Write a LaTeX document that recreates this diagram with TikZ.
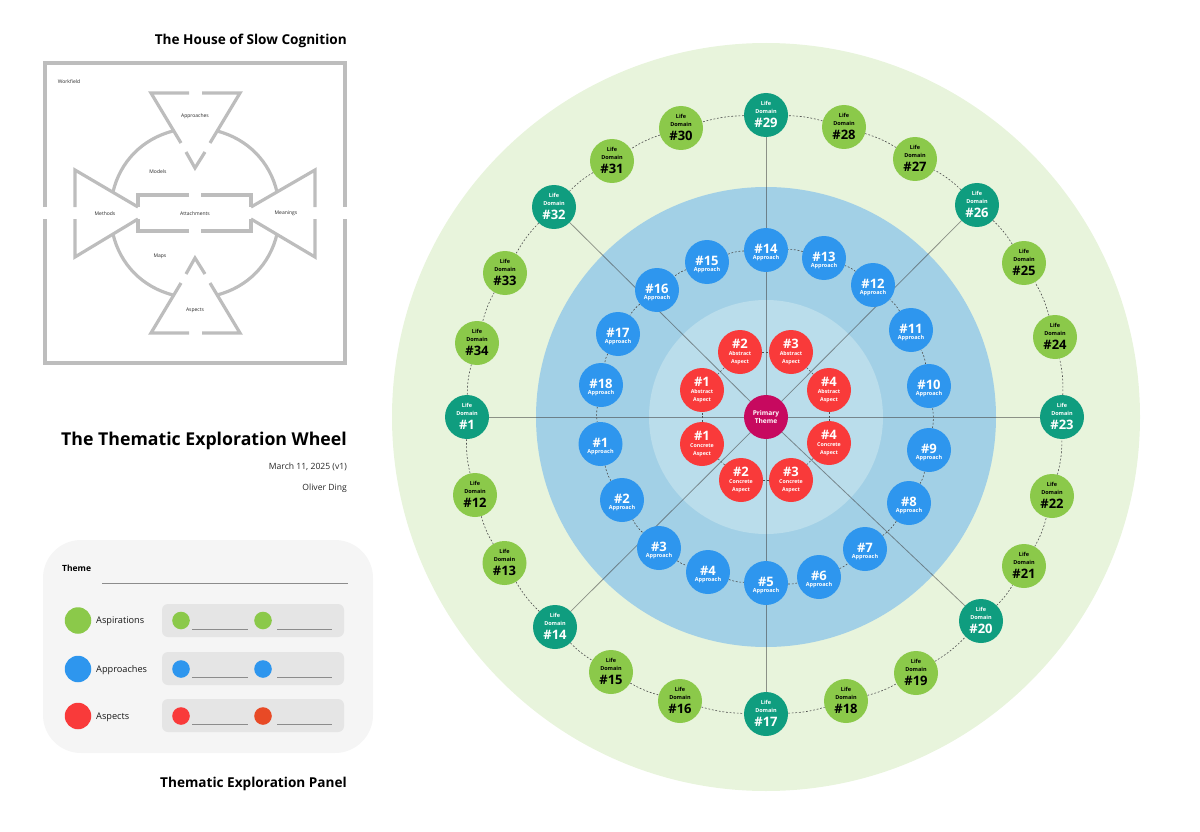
\documentclass[tikz,border=0pt]{standalone}
\usepackage{fontspec}
\setmainfont{Open Sans}
\usetikzlibrary{backgrounds}
\definecolor{cgreen}{HTML}{8BC94A}
\definecolor{cteal}{HTML}{0F9D7F}
\definecolor{cblue}{HTML}{2E96EE}
\definecolor{cred}{HTML}{F93A3A}
\definecolor{cprim}{HTML}{C7095F}
\definecolor{corange}{HTML}{E84A26}
\definecolor{ringa}{HTML}{E8F4DC}
\definecolor{ringb}{HTML}{A2D0E6}
\definecolor{ringc}{HTML}{BADDEB}
\definecolor{hse}{HTML}{BDBDBD}
\newcommand{\tline}[3]{\smash{\makebox[0pt]{\raisebox{#1}{\fontsize{#2}{#2}\selectfont\bfseries #3}}}}
\newcommand{\ldtext}[1]{\tline{9.8pt}{5.5}{Life}\tline{1.8pt}{5.5}{Domain}\tline{-12.3pt}{13}{\#{}#1}}
\newcommand{\aptext}[1]{\tline{-3pt}{13}{\#{}#1}\tline{-9.5pt}{5.5}{Approach}}
\newcommand{\astext}[2]{\tline{4pt}{13}{\#{}#1}\tline{-3.3pt}{5.3}{#2}\tline{-11.2pt}{5.3}{Aspect}}
\tikzset{
 x=1pt,y=-1pt,
 disc/.style={circle,minimum size=44pt,inner sep=0pt},
 ldg/.style={disc,fill=cgreen,text=black},
 ldt/.style={disc,fill=cteal,text=white},
 apn/.style={disc,fill=cblue,text=white},
 asn/.style={disc,fill=cred,text=white},
 prim/.style={disc,fill=cprim,text=white},
 axis/.style={draw=black!75,opacity=.55,line width=.8pt},
 link/.style={draw=black!70,line width=.6pt,dash pattern=on 1.8pt off 1.8pt},
 hs/.style={draw=hse,line width=3.2pt,line join=miter,line cap=butt},
 tiny/.style={font=\fontsize{5}{5}\selectfont,text=black!85,inner sep=0pt},
 ttl/.style={anchor=east,inner sep=0pt,font=\fontsize{13.6}{14}\selectfont\bfseries,text=black},
 sub/.style={anchor=east,inner sep=0pt,font=\fontsize{8.6}{9}\selectfont,text=black!85},
 plabel/.style={anchor=west,inner sep=0pt,font=\fontsize{9.2}{10}\selectfont,text=black!90},
 bigdot/.style={circle,inner sep=0pt,minimum size=26.5pt},
 smalldot/.style={circle,inner sep=0pt,minimum size=17.6pt},
 row/.style={fill=black!10,rounded corners=6pt},
 blank/.style={draw=black!45,line width=.8pt},
}
\begin{document}
\begin{tikzpicture}
\useasboundingbox (0,0) rectangle (1200,832);
% nodes of the wheel
\node[prim] (P) at (766,417) {\tline{2pt}{6.6}{Primary}\tline{-6.5pt}{6.6}{Theme}};
\foreach \n/\a/\b/\s in {1/467/417/ldt,12/475/495/ldg,13/504.5/563/ldg,14/555/627/ldt,15/611/672/ldg,16/680/701/ldg,17/766/714/ldt,18/846/701/ldg,19/916/673/ldg,20/981/621/ldt,21/1024/566/ldg,22/1052/496/ldg,23/1062/417/ldt,24/1055/337/ldg,25/1024/263/ldg,26/977/205/ldt,27/915/159/ldg,28/844/127/ldg,29/766/115/ldt,30/681/128/ldg,31/612/161/ldg,32/554/207/ldt,33/505/273/ldg,34/477/343/ldg}
  {\node[\s] (L\n) at (\a,\b) {\ldtext{\n}};}
\foreach \n/\a/\b in {1/600.5/444,2/622/500,3/659/548,4/708/572,5/766/583,6/819/577,7/865/549,8/909/503,9/929/450,10/929/386,11/911/330,12/873/285,13/824/258,14/766/250,15/707/262,16/657/290,17/618/334,18/601/385}
  {\node[apn] (A\n) at (\a,\b) {\aptext{\n}};}
\node[asn] (S1) at (702,390) {\astext{1}{Abstract}};
\node[asn] (S2) at (740,352) {\astext{2}{Abstract}};
\node[asn] (S3) at (791,352) {\astext{3}{Abstract}};
\node[asn] (S4) at (829,390) {\astext{4}{Abstract}};
\node[asn] (C1) at (702,444) {\astext{1}{Concrete}};
\node[asn] (C2) at (741,480) {\astext{2}{Concrete}};
\node[asn] (C3) at (791,480) {\astext{3}{Concrete}};
\node[asn] (C4) at (829,443) {\astext{4}{Concrete}};
\begin{pgfonlayer}{background}
\fill[ringa] (766,417) circle[radius=374];
\fill[ringb] (766,417) circle[radius=230];
\fill[ringc] (766,417) circle[radius=117];
\foreach \t in {L1,L14,L17,L20,L23,L26,L29,L32}
  \draw[axis] (P) -- (\t);
\foreach \i/\j in {1/12,12/13,13/14,14/15,15/16,16/17,17/18,18/19,19/20,20/21,21/22,22/23,23/24,24/25,25/26,26/27,27/28,28/29,29/30,30/31,31/32,32/33,33/34,34/1}
  \draw[link] (L\i) to[bend right=7] (L\j);
\foreach \i/\j in {1/2,2/3,3/4,4/5,5/6,6/7,7/8,8/9,9/10,10/11,11/12,12/13,13/14,14/15,15/16,16/17,17/18,18/1}
  \draw[link] (A\i) to[bend right=9] (A\j);
\foreach \i/\j in {S1/S2,S2/S3,S3/S4,S4/C4,C4/C3,C3/C2,C2/C1,C1/S1}
  \draw[link] (\i) -- (\j);
\end{pgfonlayer}
% House
\node[ttl] (t1) at (347,41) {The House of Slow Cognition};
\draw[hs] (45,207) -- (45,63) -- (345,63) -- (345,207);
\draw[hs] (45,219) -- (45,363) -- (345,363) -- (345,219);
\draw[hs] (189,93) -- (151,93) -- (181,143);
\draw[hs] (202,93) -- (240,93) -- (210,143);
\draw[hs] (186,152) -- (195,168) -- (205,152);
\draw[hs] (189,333) -- (151,333) -- (181,283);
\draw[hs] (202,333) -- (240,333) -- (210,283);
\draw[hs] (186,274) -- (195,258) -- (205,274);
\draw[hs] (138,207) -- (75,170) -- (75,207);
\draw[hs] (138,219) -- (75,257) -- (75,219);
\draw[hs] (251,207) -- (315,170) -- (315,207);
\draw[hs] (251,219) -- (315,257) -- (315,219);
\draw[hs] (189,195) -- (138,195) -- (138,207);
\draw[hs] (201,195) -- (251,195) -- (251,207);
\draw[hs] (189,231) -- (138,231) -- (138,219);
\draw[hs] (201,231) -- (251,231) -- (251,219);
\draw[hs] (173,131) .. controls (142,139) and (120,162) .. (113,192);
\draw[hs] (217,131) .. controls (248,139) and (270,162) .. (277,192);
\draw[hs] (173,295) .. controls (142,287) and (120,264) .. (113,234);
\draw[hs] (217,295) .. controls (248,287) and (270,264) .. (277,234);
\node[tiny] (h1) at (69,82) {Workfield};
\node[tiny] (h2) at (195,116.5) {Approaches};
\node[tiny] (h3) at (158,171.5) {Models};
\node[tiny] (h4) at (105,213.5) {Methods};
\node[tiny] (h5) at (195,213.5) {Attachments};
\node[tiny] (h6) at (286,213.5) {Meanings};
\node[tiny] (h7) at (160,256.5) {Maps};
\node[tiny] (h8) at (195,310.5) {Aspects};
% Titles
\node[ttl,font=\fontsize{17.7}{19}\selectfont\bfseries] (t2) at (347,441) {The Thematic Exploration Wheel};
\node[sub] (t3) at (347,467) {March 11, 2025 (v1)};
\node[sub] (t4) at (347,488) {Oliver Ding};
% Panel
\fill[black!4,rounded corners=38pt] (43,540) rectangle (373,753);
\node[anchor=west,inner sep=0pt,font=\fontsize{8.5}{9}\selectfont\bfseries] (th) at (62,568.5) {Theme};
\draw[blank] (102,583) -- (348,583);
\fill[row] (162,604) rectangle (344,637);
\fill[row] (162,652) rectangle (344,685);
\fill[row] (162,699) rectangle (344,732);
\foreach \n/\yy/\c/\d/\lab in {a/620.5/cgreen/cgreen/Aspirations,b/669/cblue/cblue/Approaches,c/716/cred/corange/Aspects}{
  \node[bigdot,fill=\c] (big\n) at (78,\yy) {};
  \node[plabel] (lab\n) at (96,\yy+1) {\lab};
  \node[smalldot,fill=\c] (sa\n) at (181,\yy) {};
  \node[smalldot,fill=\d] (sb\n) at (263,\yy) {};
  \draw[blank] (192,\yy+8.5) -- (248,\yy+8.5);
  \draw[blank] (277,\yy+8.5) -- (332,\yy+8.5);
}
\node[ttl] (t5) at (347,784) {Thematic Exploration Panel};
\end{tikzpicture}
\end{document}
